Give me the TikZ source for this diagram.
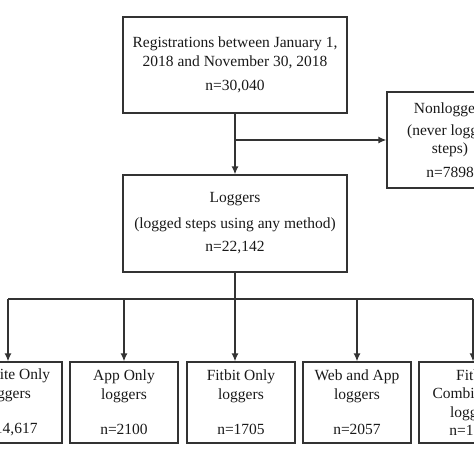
\documentclass[tikz,border=0pt]{standalone}
\usepackage{fontspec}
\setmainfont{Liberation Serif}
\usetikzlibrary{arrows.meta}
\tikzstyle{box}=[draw=black!80,line width=1.3pt,align=center,inner sep=0pt,text=black!90,font=\fontsize{15.5}{18.5}\selectfont]
\tikzstyle{small}=[box,minimum width=108pt,minimum height=81pt]
\tikzstyle{edge}=[draw=black!80,line width=1.3pt,-{Latex[length=8pt,width=7pt]}]
\tikzstyle{bus}=[draw=black!80,line width=1.3pt]

\begin{document}
\begin{tikzpicture}[x=1pt,y=-1pt]
        \useasboundingbox (0,0) rectangle (474,474);
        \clip (0,0) rectangle (474,474);
        % top of the flow
        \node[box,minimum width=224pt,minimum height=96pt] (reg) at (235,65) {Registrations between January 1,\\2018 and November 30, 2018\\[6pt]n=30,040};
        \node[box,minimum width=224pt,minimum height=97pt] (lg) at (235,223.5) {Loggers\\[7pt](logged steps using any method)\\[5pt]n=22,142};
        \node[box,minimum width=126pt,minimum height=96pt] (nl) at (450,140) {Nonloggers\\[3pt](never logged\\steps)\\[5pt]n=7898};
        % groups of loggers
        \node[small] (web) at (8,402.5) {Website Only\\loggers\\[17pt]n=14,617};
        \node[small] (app) at (124,402.5) {App Only\\loggers\\[17pt]n=2100};
        \node[small] (fit) at (241,402.5) {Fitbit Only\\loggers\\[17pt]n=1705};
        \node[small] (wa) at (357,402.5) {Web and App\\loggers\\[17pt]n=2057};
        \node[small] (comb) at (473,402.5) {Fitbit\\Combination\\loggers\\n=1663};
        \coordinate (split) at (reg.south |- nl.west);
        \coordinate (fork) at (235,299);
        \draw[edge] (reg) -- (lg);
        \draw[edge] (split) -- (nl);
        \draw[bus] (lg) -- (fork);
        \draw[bus] (fork -| web) -- (fork -| comb);
        \foreach \b in {web,app,wa,comb}
          \draw[edge] (fork -| \b) -- (\b);
        \draw[edge] (fork) -- (fit.north -| fork);
      \end{tikzpicture}
\end{document}
